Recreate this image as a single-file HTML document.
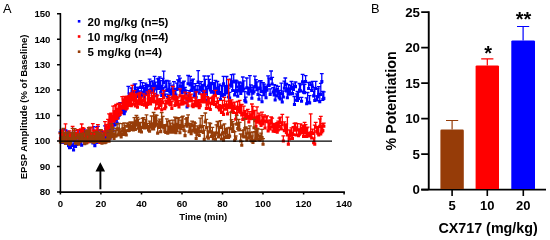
<!DOCTYPE html>
<html><head><meta charset="utf-8"><title>CX717 EPSP figure</title>
<style>
html,body{margin:0;padding:0;background:#fff;}
svg{display:block;}
text{font-family:"Liberation Sans",sans-serif;fill:#000;}
.s9{font-weight:bold;font-size:9.6px;}
.b{font-weight:bold;}
.r{font-weight:normal;}
</style></head><body>
<svg width="550" height="240" viewBox="0 0 550 240">
<rect width="550" height="240" fill="#fff"/>
<path d="M60.4 140.8V131.9M58.5 131.9h3.8M61.4 141.8V135.7M59.5 135.7h3.8M62.4 142.4V136.6M60.5 136.6h3.8M63.4 140.5V129.3M61.5 129.3h3.8M64.5 142.6V135.8M62.6 135.8h3.8M65.5 139.0V130.0M63.6 130.0h3.8M66.5 140.4V134.4M64.6 134.4h3.8M67.5 140.9V131.1M65.6 131.1h3.8M68.5 145.7V138.6M66.6 138.6h3.8M69.5 147.7V142.5M67.6 142.5h3.8M70.5 147.5V139.9M68.6 139.9h3.8M71.5 145.4V136.6M69.6 136.6h3.8M72.6 140.2V132.5M70.7 132.5h3.8M73.6 150.0V143.1M71.7 143.1h3.8M74.6 140.9V132.5M72.7 132.5h3.8M75.6 146.4V139.3M73.7 139.3h3.8M76.6 144.4V138.1M74.7 138.1h3.8M77.6 136.9V130.6M75.7 130.6h3.8M78.6 140.9V130.7M76.7 130.7h3.8M79.7 142.9V135.0M77.8 135.0h3.8M80.7 140.4V132.1M78.8 132.1h3.8M81.7 145.3V136.9M79.8 136.9h3.8M82.7 135.8V131.2M80.8 131.2h3.8M83.7 137.6V129.2M81.8 129.2h3.8M84.7 143.1V130.4M82.8 130.4h3.8M85.7 138.0V132.6M83.8 132.6h3.8M86.7 140.5V131.0M84.8 131.0h3.8M87.8 141.5V131.8M85.9 131.8h3.8M88.8 141.0V131.3M86.9 131.3h3.8M89.8 135.5V128.9M87.9 128.9h3.8M90.8 140.0V132.9M88.9 132.9h3.8M91.8 140.3V134.9M89.9 134.9h3.8M92.8 142.9V135.2M90.9 135.2h3.8M93.8 137.5V126.7M91.9 126.7h3.8M94.8 145.6V139.3M92.9 139.3h3.8M95.9 138.4V134.8M94.0 134.8h3.8M96.9 142.5V134.5M95.0 134.5h3.8M97.9 136.2V126.4M96.0 126.4h3.8M98.9 142.0V134.7M97.0 134.7h3.8M99.9 141.7V130.1M98.0 130.1h3.8M100.9 142.3V134.9M99.0 134.9h3.8M101.9 139.4V131.5M100.0 131.5h3.8M103.0 141.0V135.4M101.1 135.4h3.8M104.0 139.9V132.7M102.1 132.7h3.8M105.0 135.6V125.9M103.1 125.9h3.8M106.0 138.3V128.6M104.1 128.6h3.8M107.0 138.2V127.6M105.1 127.6h3.8M108.0 135.9V126.5M106.1 126.5h3.8M109.0 138.5V129.5M107.1 129.5h3.8M110.0 138.2V134.7M108.1 134.7h3.8M111.1 132.3V126.2M109.2 126.2h3.8M112.1 129.1V115.8M110.2 115.8h3.8M113.1 130.3V123.6M111.2 123.6h3.8M114.1 125.3V116.0M112.2 116.0h3.8M115.1 124.5V116.9M113.2 116.9h3.8M116.1 119.9V110.6M114.2 110.6h3.8M117.1 123.2V115.3M115.2 115.3h3.8M118.2 118.0V112.3M116.3 112.3h3.8M119.2 115.4V109.2M117.3 109.2h3.8M120.2 111.3V102.7M118.3 102.7h3.8M121.2 112.2V105.4M119.3 105.4h3.8M122.2 111.0V107.4M120.3 107.4h3.8M123.2 112.4V103.4M121.3 103.4h3.8M124.2 113.8V103.7M122.3 103.7h3.8M125.2 111.0V101.2M123.3 101.2h3.8M126.3 106.8V96.9M124.4 96.9h3.8M127.3 102.5V97.8M125.4 97.8h3.8M128.3 97.8V86.3M126.4 86.3h3.8M129.3 100.6V93.1M127.4 93.1h3.8M130.3 99.7V93.8M128.4 93.8h3.8M131.3 94.9V88.0M129.4 88.0h3.8M132.3 97.5V91.1M130.4 91.1h3.8M133.4 98.4V93.2M131.5 93.2h3.8M134.4 91.9V84.1M132.5 84.1h3.8M135.4 92.1V83.9M133.5 83.9h3.8M136.4 96.5V89.1M134.5 89.1h3.8M137.4 95.6V87.4M135.5 87.4h3.8M138.4 94.5V87.1M136.5 87.1h3.8M139.4 97.3V91.0M137.5 91.0h3.8M140.4 87.3V80.7M138.5 80.7h3.8M141.5 95.6V86.7M139.6 86.7h3.8M142.5 87.4V82.6M140.6 82.6h3.8M143.5 92.4V85.7M141.6 85.7h3.8M144.5 97.4V87.6M142.6 87.6h3.8M145.5 91.4V83.1M143.6 83.1h3.8M146.5 93.7V84.6M144.6 84.6h3.8M147.5 92.9V85.1M145.6 85.1h3.8M148.5 94.8V89.4M146.6 89.4h3.8M149.6 86.1V79.1M147.7 79.1h3.8M150.6 89.7V81.6M148.7 81.6h3.8M151.6 92.3V85.3M149.7 85.3h3.8M152.6 88.3V80.9M150.7 80.9h3.8M153.6 91.1V83.0M151.7 83.0h3.8M154.6 86.1V76.4M152.7 76.4h3.8M155.6 89.1V82.2M153.7 82.2h3.8M156.7 95.8V85.5M154.8 85.5h3.8M157.7 86.7V78.9M155.8 78.9h3.8M158.7 88.3V78.4M156.8 78.4h3.8M159.7 87.2V76.9M157.8 76.9h3.8M160.7 92.2V80.6M158.8 80.6h3.8M161.7 95.4V85.3M159.8 85.3h3.8M162.7 88.4V78.3M160.8 78.3h3.8M163.7 82.7V71.1M161.8 71.1h3.8M164.8 95.2V90.9M162.9 90.9h3.8M165.8 87.0V81.2M163.9 81.2h3.8M166.8 90.5V80.4M164.9 80.4h3.8M167.8 97.4V94.1M165.9 94.1h3.8M168.8 89.3V81.0M166.9 81.0h3.8M169.8 91.5V83.2M167.9 83.2h3.8M170.8 94.2V89.5M168.9 89.5h3.8M171.9 91.1V85.2M170.0 85.2h3.8M172.9 97.8V88.5M171.0 88.5h3.8M173.9 90.7V81.6M172.0 81.6h3.8M174.9 94.9V88.3M173.0 88.3h3.8M175.9 95.0V88.9M174.0 88.9h3.8M176.9 89.5V83.1M175.0 83.1h3.8M177.9 88.7V79.8M176.0 79.8h3.8M178.9 80.8V75.9M177.0 75.9h3.8M180.0 86.2V78.2M178.1 78.2h3.8M181.0 90.5V85.6M179.1 85.6h3.8M182.0 92.6V82.8M180.1 82.8h3.8M183.0 90.8V82.5M181.1 82.5h3.8M184.0 91.9V81.1M182.1 81.1h3.8M185.0 90.6V87.5M183.1 87.5h3.8M186.0 94.0V90.3M184.1 90.3h3.8M187.1 106.9V100.0M185.2 100.0h3.8M188.1 83.8V75.5M186.2 75.5h3.8M189.1 96.6V90.6M187.2 90.6h3.8M190.1 84.9V76.4M188.2 76.4h3.8M191.1 90.4V82.4M189.2 82.4h3.8M192.1 90.5V80.5M190.2 80.5h3.8M193.1 87.9V79.2M191.2 79.2h3.8M194.1 96.0V86.7M192.2 86.7h3.8M195.2 94.2V83.6M193.3 83.6h3.8M196.2 97.2V89.4M194.3 89.4h3.8M197.2 90.8V85.7M195.3 85.7h3.8M198.2 82.1V70.6M196.3 70.6h3.8M199.2 93.2V83.3M197.3 83.3h3.8M200.2 89.0V86.4M198.3 86.4h3.8M201.2 89.6V81.6M199.3 81.6h3.8M202.2 90.5V84.8M200.3 84.8h3.8M203.3 92.3V84.6M201.4 84.6h3.8M204.3 84.9V76.0M202.4 76.0h3.8M205.3 91.0V79.4M203.4 79.4h3.8M206.3 93.9V86.6M204.4 86.6h3.8M207.3 100.3V88.6M205.4 88.6h3.8M208.3 86.2V76.0M206.4 76.0h3.8M209.3 87.7V79.3M207.4 79.3h3.8M210.4 90.1V82.5M208.5 82.5h3.8M211.4 92.2V84.0M209.5 84.0h3.8M212.4 83.5V74.1M210.5 74.1h3.8M213.4 91.5V84.7M211.5 84.7h3.8M214.4 94.5V82.7M212.5 82.7h3.8M215.4 88.7V80.4M213.5 80.4h3.8M216.4 93.1V87.5M214.5 87.5h3.8M217.4 91.7V81.5M215.5 81.5h3.8M218.5 93.4V85.8M216.6 85.8h3.8M219.5 92.5V84.1M217.6 84.1h3.8M220.5 99.5V91.9M218.6 91.9h3.8M221.5 95.8V85.6M219.6 85.6h3.8M222.5 95.4V85.9M220.6 85.9h3.8M223.5 83.8V76.3M221.6 76.3h3.8M224.5 94.6V86.0M222.6 86.0h3.8M225.6 91.6V85.7M223.7 85.7h3.8M226.6 89.2V76.5M224.7 76.5h3.8M227.6 92.9V85.3M225.7 85.3h3.8M228.6 97.0V88.1M226.7 88.1h3.8M229.6 98.0V92.4M227.7 92.4h3.8M230.6 85.2V79.1M228.7 79.1h3.8M231.6 86.2V74.6M229.7 74.6h3.8M232.6 90.4V81.0M230.7 81.0h3.8M233.7 81.9V74.2M231.8 74.2h3.8M234.7 94.8V89.8M232.8 89.8h3.8M235.7 91.6V80.1M233.8 80.1h3.8M236.7 87.0V81.0M234.8 81.0h3.8M237.7 96.2V89.3M235.8 89.3h3.8M238.7 90.4V82.8M236.8 82.8h3.8M239.7 90.9V82.0M237.8 82.0h3.8M240.7 93.5V85.4M238.8 85.4h3.8M241.8 91.0V83.0M239.9 83.0h3.8M242.8 89.5V77.0M240.9 77.0h3.8M243.8 89.0V80.8M241.9 80.8h3.8M244.8 100.7V91.6M242.9 91.6h3.8M245.8 102.0V97.1M243.9 97.1h3.8M246.8 87.8V78.0M244.9 78.0h3.8M247.8 92.9V88.7M245.9 88.7h3.8M248.9 94.1V87.5M247.0 87.5h3.8M249.9 89.0V75.7M248.0 75.7h3.8M250.9 91.1V84.8M249.0 84.8h3.8M251.9 98.2V90.2M250.0 90.2h3.8M252.9 93.2V87.7M251.0 87.7h3.8M253.9 91.7V86.2M252.0 86.2h3.8M254.9 86.6V76.1M253.0 76.1h3.8M255.9 86.8V79.7M254.0 79.7h3.8M257.0 89.7V81.9M255.1 81.9h3.8M258.0 94.5V87.1M256.1 87.1h3.8M259.0 99.3V94.4M257.1 94.4h3.8M260.0 88.3V80.6M258.1 80.6h3.8M261.0 91.4V80.9M259.1 80.9h3.8M262.0 101.8V95.4M260.1 95.4h3.8M263.0 91.6V82.6M261.1 82.6h3.8M264.1 94.6V84.1M262.2 84.1h3.8M265.1 91.5V86.1M263.2 86.1h3.8M266.1 97.7V87.7M264.2 87.7h3.8M267.1 90.2V86.4M265.2 86.4h3.8M268.1 85.3V75.8M266.2 75.8h3.8M269.1 85.4V78.1M267.2 78.1h3.8M270.1 94.4V88.8M268.2 88.8h3.8M271.1 78.7V71.0M269.2 71.0h3.8M272.2 84.0V77.3M270.3 77.3h3.8M273.2 91.9V87.6M271.3 87.6h3.8M274.2 95.0V84.6M272.3 84.6h3.8M275.2 100.0V89.4M273.3 89.4h3.8M276.2 91.0V85.3M274.3 85.3h3.8M277.2 95.8V88.7M275.3 88.7h3.8M278.2 93.3V86.4M276.3 86.4h3.8M279.3 97.8V90.3M277.4 90.3h3.8M280.3 99.0V93.8M278.4 93.8h3.8M281.3 93.3V83.2M279.4 83.2h3.8M282.3 102.0V93.9M280.4 93.9h3.8M283.3 96.9V91.0M281.4 91.0h3.8M284.3 88.1V81.2M282.4 81.2h3.8M285.3 84.3V78.0M283.4 78.0h3.8M286.3 90.9V83.3M284.4 83.3h3.8M287.4 97.7V88.2M285.5 88.2h3.8M288.4 94.2V84.7M286.5 84.7h3.8M289.4 93.6V87.9M287.5 87.9h3.8M290.4 93.9V85.7M288.5 85.7h3.8M291.4 87.5V81.5M289.5 81.5h3.8M292.4 93.6V89.4M290.5 89.4h3.8M293.4 89.4V83.8M291.5 83.8h3.8M294.4 104.5V96.5M292.5 96.5h3.8M295.5 86.6V82.0M293.6 82.0h3.8M296.5 100.2V93.8M294.6 93.8h3.8M297.5 100.5V91.5M295.6 91.5h3.8M298.5 98.6V92.1M296.6 92.1h3.8M299.5 89.9V83.5M297.6 83.5h3.8M300.5 90.9V84.9M298.6 84.9h3.8M301.5 101.3V97.3M299.6 97.3h3.8M302.6 81.8V74.4M300.7 74.4h3.8M303.6 92.1V84.0M301.7 84.0h3.8M304.6 92.7V84.4M302.7 84.4h3.8M305.6 81.5V75.7M303.7 75.7h3.8M306.6 103.8V97.9M304.7 97.9h3.8M307.6 102.4V92.5M305.7 92.5h3.8M308.6 88.5V82.5M306.7 82.5h3.8M309.6 102.9V95.6M307.7 95.6h3.8M310.7 84.8V82.2M308.8 82.2h3.8M311.7 90.4V84.7M309.8 84.7h3.8M312.7 87.1V81.4M310.8 81.4h3.8M313.7 95.8V91.1M311.8 91.1h3.8M314.7 100.5V89.1M312.8 89.1h3.8M315.7 88.5V81.3M313.8 81.3h3.8M316.7 99.8V96.0M314.8 96.0h3.8M317.8 96.7V88.6M315.9 88.6h3.8M318.8 94.6V86.7M316.9 86.7h3.8M319.8 101.7V93.7M317.9 93.7h3.8M320.8 94.4V83.3M318.9 83.3h3.8M321.8 81.4V73.6M319.9 73.6h3.8M322.8 99.4V91.4M320.9 91.4h3.8M323.8 98.4V91.9M321.9 91.9h3.8" stroke="#0000ff" stroke-width="1.3" fill="none"/><path d="M58.9 139.2h3.1v3.1h-3.1zM59.9 140.2h3.1v3.1h-3.1zM60.9 140.9h3.1v3.1h-3.1zM61.9 139.0h3.1v3.1h-3.1zM62.9 141.0h3.1v3.1h-3.1zM63.9 137.4h3.1v3.1h-3.1zM64.9 138.8h3.1v3.1h-3.1zM65.9 139.3h3.1v3.1h-3.1zM67.0 144.1h3.1v3.1h-3.1zM68.0 146.2h3.1v3.1h-3.1zM69.0 146.0h3.1v3.1h-3.1zM70.0 143.9h3.1v3.1h-3.1zM71.0 138.6h3.1v3.1h-3.1zM72.0 148.4h3.1v3.1h-3.1zM73.0 139.4h3.1v3.1h-3.1zM74.0 144.8h3.1v3.1h-3.1zM75.1 142.8h3.1v3.1h-3.1zM76.1 135.3h3.1v3.1h-3.1zM77.1 139.3h3.1v3.1h-3.1zM78.1 141.4h3.1v3.1h-3.1zM79.1 138.8h3.1v3.1h-3.1zM80.1 143.7h3.1v3.1h-3.1zM81.1 134.2h3.1v3.1h-3.1zM82.2 136.1h3.1v3.1h-3.1zM83.2 141.6h3.1v3.1h-3.1zM84.2 136.4h3.1v3.1h-3.1zM85.2 138.9h3.1v3.1h-3.1zM86.2 139.9h3.1v3.1h-3.1zM87.2 139.5h3.1v3.1h-3.1zM88.2 133.9h3.1v3.1h-3.1zM89.2 138.5h3.1v3.1h-3.1zM90.3 138.7h3.1v3.1h-3.1zM91.3 141.3h3.1v3.1h-3.1zM92.3 135.9h3.1v3.1h-3.1zM93.3 144.1h3.1v3.1h-3.1zM94.3 136.8h3.1v3.1h-3.1zM95.3 140.9h3.1v3.1h-3.1zM96.3 134.6h3.1v3.1h-3.1zM97.4 140.4h3.1v3.1h-3.1zM98.4 140.1h3.1v3.1h-3.1zM99.4 140.8h3.1v3.1h-3.1zM100.4 137.8h3.1v3.1h-3.1zM101.4 139.4h3.1v3.1h-3.1zM102.4 138.3h3.1v3.1h-3.1zM103.4 134.0h3.1v3.1h-3.1zM104.4 136.8h3.1v3.1h-3.1zM105.5 136.6h3.1v3.1h-3.1zM106.5 134.4h3.1v3.1h-3.1zM107.5 136.9h3.1v3.1h-3.1zM108.5 136.6h3.1v3.1h-3.1zM109.5 130.7h3.1v3.1h-3.1zM110.5 127.6h3.1v3.1h-3.1zM111.5 128.8h3.1v3.1h-3.1zM112.5 123.7h3.1v3.1h-3.1zM113.6 123.0h3.1v3.1h-3.1zM114.6 118.3h3.1v3.1h-3.1zM115.6 121.7h3.1v3.1h-3.1zM116.6 116.5h3.1v3.1h-3.1zM117.6 113.8h3.1v3.1h-3.1zM118.6 109.8h3.1v3.1h-3.1zM119.6 110.6h3.1v3.1h-3.1zM120.7 109.5h3.1v3.1h-3.1zM121.7 110.8h3.1v3.1h-3.1zM122.7 112.2h3.1v3.1h-3.1zM123.7 109.5h3.1v3.1h-3.1zM124.7 105.3h3.1v3.1h-3.1zM125.7 100.9h3.1v3.1h-3.1zM126.7 96.2h3.1v3.1h-3.1zM127.7 99.0h3.1v3.1h-3.1zM128.8 98.2h3.1v3.1h-3.1zM129.8 93.3h3.1v3.1h-3.1zM130.8 95.9h3.1v3.1h-3.1zM131.8 96.8h3.1v3.1h-3.1zM132.8 90.3h3.1v3.1h-3.1zM133.8 90.5h3.1v3.1h-3.1zM134.8 95.0h3.1v3.1h-3.1zM135.9 94.0h3.1v3.1h-3.1zM136.9 93.0h3.1v3.1h-3.1zM137.9 95.7h3.1v3.1h-3.1zM138.9 85.8h3.1v3.1h-3.1zM139.9 94.1h3.1v3.1h-3.1zM140.9 85.8h3.1v3.1h-3.1zM141.9 90.8h3.1v3.1h-3.1zM142.9 95.8h3.1v3.1h-3.1zM144.0 89.8h3.1v3.1h-3.1zM145.0 92.2h3.1v3.1h-3.1zM146.0 91.3h3.1v3.1h-3.1zM147.0 93.2h3.1v3.1h-3.1zM148.0 84.5h3.1v3.1h-3.1zM149.0 88.2h3.1v3.1h-3.1zM150.0 90.7h3.1v3.1h-3.1zM151.1 86.8h3.1v3.1h-3.1zM152.1 89.6h3.1v3.1h-3.1zM153.1 84.6h3.1v3.1h-3.1zM154.1 87.5h3.1v3.1h-3.1zM155.1 94.2h3.1v3.1h-3.1zM156.1 85.2h3.1v3.1h-3.1zM157.1 86.8h3.1v3.1h-3.1zM158.1 85.6h3.1v3.1h-3.1zM159.2 90.7h3.1v3.1h-3.1zM160.2 93.9h3.1v3.1h-3.1zM161.2 86.9h3.1v3.1h-3.1zM162.2 81.1h3.1v3.1h-3.1zM163.2 93.6h3.1v3.1h-3.1zM164.2 85.4h3.1v3.1h-3.1zM165.2 88.9h3.1v3.1h-3.1zM166.2 95.9h3.1v3.1h-3.1zM167.3 87.7h3.1v3.1h-3.1zM168.3 89.9h3.1v3.1h-3.1zM169.3 92.6h3.1v3.1h-3.1zM170.3 89.6h3.1v3.1h-3.1zM171.3 96.2h3.1v3.1h-3.1zM172.3 89.1h3.1v3.1h-3.1zM173.3 93.4h3.1v3.1h-3.1zM174.4 93.4h3.1v3.1h-3.1zM175.4 87.9h3.1v3.1h-3.1zM176.4 87.2h3.1v3.1h-3.1zM177.4 79.3h3.1v3.1h-3.1zM178.4 84.6h3.1v3.1h-3.1zM179.4 88.9h3.1v3.1h-3.1zM180.4 91.1h3.1v3.1h-3.1zM181.4 89.3h3.1v3.1h-3.1zM182.5 90.3h3.1v3.1h-3.1zM183.5 89.0h3.1v3.1h-3.1zM184.5 92.4h3.1v3.1h-3.1zM185.5 105.4h3.1v3.1h-3.1zM186.5 82.2h3.1v3.1h-3.1zM187.5 95.0h3.1v3.1h-3.1zM188.5 83.3h3.1v3.1h-3.1zM189.6 88.8h3.1v3.1h-3.1zM190.6 88.9h3.1v3.1h-3.1zM191.6 86.3h3.1v3.1h-3.1zM192.6 94.5h3.1v3.1h-3.1zM193.6 92.7h3.1v3.1h-3.1zM194.6 95.7h3.1v3.1h-3.1zM195.6 89.3h3.1v3.1h-3.1zM196.6 80.5h3.1v3.1h-3.1zM197.7 91.7h3.1v3.1h-3.1zM198.7 87.4h3.1v3.1h-3.1zM199.7 88.1h3.1v3.1h-3.1zM200.7 89.0h3.1v3.1h-3.1zM201.7 90.8h3.1v3.1h-3.1zM202.7 83.4h3.1v3.1h-3.1zM203.7 89.5h3.1v3.1h-3.1zM204.8 92.3h3.1v3.1h-3.1zM205.8 98.8h3.1v3.1h-3.1zM206.8 84.6h3.1v3.1h-3.1zM207.8 86.2h3.1v3.1h-3.1zM208.8 88.5h3.1v3.1h-3.1zM209.8 90.7h3.1v3.1h-3.1zM210.8 82.0h3.1v3.1h-3.1zM211.8 90.0h3.1v3.1h-3.1zM212.9 92.9h3.1v3.1h-3.1zM213.9 87.2h3.1v3.1h-3.1zM214.9 91.5h3.1v3.1h-3.1zM215.9 90.1h3.1v3.1h-3.1zM216.9 91.8h3.1v3.1h-3.1zM217.9 91.0h3.1v3.1h-3.1zM218.9 98.0h3.1v3.1h-3.1zM219.9 94.3h3.1v3.1h-3.1zM221.0 93.9h3.1v3.1h-3.1zM222.0 82.2h3.1v3.1h-3.1zM223.0 93.1h3.1v3.1h-3.1zM224.0 90.0h3.1v3.1h-3.1zM225.0 87.7h3.1v3.1h-3.1zM226.0 91.4h3.1v3.1h-3.1zM227.0 95.4h3.1v3.1h-3.1zM228.1 96.5h3.1v3.1h-3.1zM229.1 83.6h3.1v3.1h-3.1zM230.1 84.7h3.1v3.1h-3.1zM231.1 88.9h3.1v3.1h-3.1zM232.1 80.3h3.1v3.1h-3.1zM233.1 93.3h3.1v3.1h-3.1zM234.1 90.1h3.1v3.1h-3.1zM235.1 85.4h3.1v3.1h-3.1zM236.2 94.7h3.1v3.1h-3.1zM237.2 88.9h3.1v3.1h-3.1zM238.2 89.3h3.1v3.1h-3.1zM239.2 91.9h3.1v3.1h-3.1zM240.2 89.4h3.1v3.1h-3.1zM241.2 87.9h3.1v3.1h-3.1zM242.2 87.5h3.1v3.1h-3.1zM243.3 99.1h3.1v3.1h-3.1zM244.3 100.5h3.1v3.1h-3.1zM245.3 86.2h3.1v3.1h-3.1zM246.3 91.4h3.1v3.1h-3.1zM247.3 92.5h3.1v3.1h-3.1zM248.3 87.4h3.1v3.1h-3.1zM249.3 89.6h3.1v3.1h-3.1zM250.3 96.7h3.1v3.1h-3.1zM251.4 91.7h3.1v3.1h-3.1zM252.4 90.2h3.1v3.1h-3.1zM253.4 85.1h3.1v3.1h-3.1zM254.4 85.2h3.1v3.1h-3.1zM255.4 88.2h3.1v3.1h-3.1zM256.4 92.9h3.1v3.1h-3.1zM257.4 97.7h3.1v3.1h-3.1zM258.5 86.8h3.1v3.1h-3.1zM259.5 89.8h3.1v3.1h-3.1zM260.5 100.2h3.1v3.1h-3.1zM261.5 90.1h3.1v3.1h-3.1zM262.5 93.1h3.1v3.1h-3.1zM263.5 89.9h3.1v3.1h-3.1zM264.5 96.2h3.1v3.1h-3.1zM265.5 88.6h3.1v3.1h-3.1zM266.6 83.8h3.1v3.1h-3.1zM267.6 83.8h3.1v3.1h-3.1zM268.6 92.8h3.1v3.1h-3.1zM269.6 77.2h3.1v3.1h-3.1zM270.6 82.4h3.1v3.1h-3.1zM271.6 90.4h3.1v3.1h-3.1zM272.6 93.5h3.1v3.1h-3.1zM273.6 98.4h3.1v3.1h-3.1zM274.7 89.5h3.1v3.1h-3.1zM275.7 94.3h3.1v3.1h-3.1zM276.7 91.7h3.1v3.1h-3.1zM277.7 96.2h3.1v3.1h-3.1zM278.7 97.4h3.1v3.1h-3.1zM279.7 91.8h3.1v3.1h-3.1zM280.7 100.5h3.1v3.1h-3.1zM281.8 95.4h3.1v3.1h-3.1zM282.8 86.6h3.1v3.1h-3.1zM283.8 82.8h3.1v3.1h-3.1zM284.8 89.4h3.1v3.1h-3.1zM285.8 96.2h3.1v3.1h-3.1zM286.8 92.6h3.1v3.1h-3.1zM287.8 92.0h3.1v3.1h-3.1zM288.8 92.4h3.1v3.1h-3.1zM289.9 86.0h3.1v3.1h-3.1zM290.9 92.1h3.1v3.1h-3.1zM291.9 87.9h3.1v3.1h-3.1zM292.9 102.9h3.1v3.1h-3.1zM293.9 85.1h3.1v3.1h-3.1zM294.9 98.7h3.1v3.1h-3.1zM295.9 99.0h3.1v3.1h-3.1zM297.0 97.0h3.1v3.1h-3.1zM298.0 88.4h3.1v3.1h-3.1zM299.0 89.3h3.1v3.1h-3.1zM300.0 99.7h3.1v3.1h-3.1zM301.0 80.3h3.1v3.1h-3.1zM302.0 90.6h3.1v3.1h-3.1zM303.0 91.1h3.1v3.1h-3.1zM304.0 79.9h3.1v3.1h-3.1zM305.1 102.2h3.1v3.1h-3.1zM306.1 100.8h3.1v3.1h-3.1zM307.1 86.9h3.1v3.1h-3.1zM308.1 101.3h3.1v3.1h-3.1zM309.1 83.2h3.1v3.1h-3.1zM310.1 88.9h3.1v3.1h-3.1zM311.1 85.5h3.1v3.1h-3.1zM312.1 94.3h3.1v3.1h-3.1zM313.2 98.9h3.1v3.1h-3.1zM314.2 87.0h3.1v3.1h-3.1zM315.2 98.3h3.1v3.1h-3.1zM316.2 95.1h3.1v3.1h-3.1zM317.2 93.1h3.1v3.1h-3.1zM318.2 100.1h3.1v3.1h-3.1zM319.2 92.8h3.1v3.1h-3.1zM320.3 79.9h3.1v3.1h-3.1zM321.3 97.9h3.1v3.1h-3.1zM322.3 96.8h3.1v3.1h-3.1z" fill="#0000ff"/><path d="M60.4 138.6V133.6M58.5 133.6h3.8M61.4 136.9V130.0M59.5 130.0h3.8M62.4 137.8V131.1M60.5 131.1h3.8M63.4 140.3V135.1M61.5 135.1h3.8M64.5 139.1V133.1M62.6 133.1h3.8M65.5 137.9V123.9M63.6 123.9h3.8M66.5 142.0V134.7M64.6 134.7h3.8M67.5 141.9V136.1M65.6 136.1h3.8M68.5 139.2V136.3M66.6 136.3h3.8M69.5 138.2V130.8M67.6 130.8h3.8M70.5 138.9V132.6M68.6 132.6h3.8M71.5 139.4V134.3M69.6 134.3h3.8M72.6 139.2V126.4M70.7 126.4h3.8M73.6 138.2V133.6M71.7 133.6h3.8M74.6 137.9V130.5M72.7 130.5h3.8M75.6 138.8V132.6M73.7 132.6h3.8M76.6 137.1V133.3M74.7 133.3h3.8M77.6 137.3V129.7M75.7 129.7h3.8M78.6 137.7V129.8M76.7 129.8h3.8M79.7 140.2V133.6M77.8 133.6h3.8M80.7 136.8V128.8M78.8 128.8h3.8M81.7 137.9V124.0M79.8 124.0h3.8M82.7 137.1V127.6M80.8 127.6h3.8M83.7 135.9V128.3M81.8 128.3h3.8M84.7 142.5V133.4M82.8 133.4h3.8M85.7 138.9V136.3M83.8 136.3h3.8M86.7 137.5V133.4M84.8 133.4h3.8M87.8 141.8V136.0M85.9 136.0h3.8M88.8 135.2V128.8M86.9 128.8h3.8M89.8 137.8V127.1M87.9 127.1h3.8M90.8 134.4V127.5M88.9 127.5h3.8M91.8 139.1V134.5M89.9 134.5h3.8M92.8 140.3V123.7M90.9 123.7h3.8M93.8 137.5V130.1M91.9 130.1h3.8M94.8 135.9V130.4M92.9 130.4h3.8M95.9 138.6V130.0M94.0 130.0h3.8M96.9 137.0V127.7M95.0 127.7h3.8M97.9 137.5V124.7M96.0 124.7h3.8M98.9 137.5V132.5M97.0 132.5h3.8M99.9 142.6V134.3M98.0 134.3h3.8M100.9 138.2V130.4M99.0 130.4h3.8M101.9 141.9V135.5M100.0 135.5h3.8M103.0 138.1V132.7M101.1 132.7h3.8M104.0 140.7V130.9M102.1 130.9h3.8M105.0 132.9V121.7M103.1 121.7h3.8M106.0 134.8V124.4M104.1 124.4h3.8M107.0 130.6V125.8M105.1 125.8h3.8M108.0 131.0V119.4M106.1 119.4h3.8M109.0 127.7V113.8M107.1 113.8h3.8M110.0 125.1V114.0M108.1 114.0h3.8M111.1 125.2V113.2M109.2 113.2h3.8M112.1 125.4V115.0M110.2 115.0h3.8M113.1 120.6V106.2M111.2 106.2h3.8M114.1 121.2V110.9M112.2 110.9h3.8M115.1 118.9V105.7M113.2 105.7h3.8M116.1 117.8V104.4M114.2 104.4h3.8M117.1 118.3V108.3M115.2 108.3h3.8M118.2 115.3V103.3M116.3 103.3h3.8M119.2 111.3V104.0M117.3 104.0h3.8M120.2 114.3V103.2M118.3 103.2h3.8M121.2 112.7V105.3M119.3 105.3h3.8M122.2 108.0V96.6M120.3 96.6h3.8M123.2 108.2V98.8M121.3 98.8h3.8M124.2 106.3V96.3M122.3 96.3h3.8M125.2 105.4V96.8M123.3 96.8h3.8M126.3 108.9V98.0M124.4 98.0h3.8M127.3 108.0V96.2M125.4 96.2h3.8M128.3 105.4V96.9M126.4 96.9h3.8M129.3 105.4V95.7M127.4 95.7h3.8M130.3 103.2V94.1M128.4 94.1h3.8M131.3 105.8V92.9M129.4 92.9h3.8M132.3 99.8V85.3M130.4 85.3h3.8M133.4 104.2V93.3M131.5 93.3h3.8M134.4 100.9V90.7M132.5 90.7h3.8M135.4 106.1V95.4M133.5 95.4h3.8M136.4 102.9V94.2M134.5 94.2h3.8M137.4 107.3V99.8M135.5 99.8h3.8M138.4 102.2V93.4M136.5 93.4h3.8M139.4 103.9V93.1M137.5 93.1h3.8M140.4 102.2V92.4M138.5 92.4h3.8M141.5 102.4V97.1M139.6 97.1h3.8M142.5 104.3V99.3M140.6 99.3h3.8M143.5 100.8V93.8M141.6 93.8h3.8M144.5 105.2V98.8M142.6 98.8h3.8M145.5 103.9V95.4M143.6 95.4h3.8M146.5 107.2V102.2M144.6 102.2h3.8M147.5 104.3V92.0M145.6 92.0h3.8M148.5 101.0V94.2M146.6 94.2h3.8M149.6 101.6V90.3M147.7 90.3h3.8M150.6 104.0V97.6M148.7 97.6h3.8M151.6 100.3V92.2M149.7 92.2h3.8M152.6 101.7V95.6M150.7 95.6h3.8M153.6 98.4V87.8M151.7 87.8h3.8M154.6 101.9V93.4M152.7 93.4h3.8M155.6 108.7V100.3M153.7 100.3h3.8M156.7 103.9V95.9M154.8 95.9h3.8M157.7 101.5V95.1M155.8 95.1h3.8M158.7 108.0V100.1M156.8 100.1h3.8M159.7 105.4V99.0M157.8 99.0h3.8M160.7 105.1V98.6M158.8 98.6h3.8M161.7 109.9V100.3M159.8 100.3h3.8M162.7 102.6V93.3M160.8 93.3h3.8M163.7 97.7V90.5M161.8 90.5h3.8M164.8 108.6V103.3M162.9 103.3h3.8M165.8 106.9V100.8M163.9 100.8h3.8M166.8 103.1V100.1M164.9 100.1h3.8M167.8 102.3V98.3M165.9 98.3h3.8M168.8 102.5V95.6M166.9 95.6h3.8M169.8 104.3V97.4M167.9 97.4h3.8M170.8 105.0V99.2M168.9 99.2h3.8M171.9 108.6V101.5M170.0 101.5h3.8M172.9 97.6V86.4M171.0 86.4h3.8M173.9 99.2V90.6M172.0 90.6h3.8M174.9 105.5V95.5M173.0 95.5h3.8M175.9 103.5V96.6M174.0 96.6h3.8M176.9 104.3V97.0M175.0 97.0h3.8M177.9 104.8V97.8M176.0 97.8h3.8M178.9 107.0V100.6M177.0 100.6h3.8M180.0 95.8V88.8M178.1 88.8h3.8M181.0 104.2V96.0M179.1 96.0h3.8M182.0 101.0V96.1M180.1 96.1h3.8M183.0 104.1V95.1M181.1 95.1h3.8M184.0 102.4V95.1M182.1 95.1h3.8M185.0 98.0V92.2M183.1 92.2h3.8M186.0 103.1V97.0M184.1 97.0h3.8M187.1 98.1V95.0M185.2 95.0h3.8M188.1 105.8V99.7M186.2 99.7h3.8M189.1 101.0V92.6M187.2 92.6h3.8M190.1 98.4V94.5M188.2 94.5h3.8M191.1 100.7V94.2M189.2 94.2h3.8M192.1 105.7V97.5M190.2 97.5h3.8M193.1 106.6V103.7M191.2 103.7h3.8M194.1 104.7V100.6M192.2 100.6h3.8M195.2 105.7V97.8M193.3 97.8h3.8M196.2 102.3V91.9M194.3 91.9h3.8M197.2 104.1V100.1M195.3 100.1h3.8M198.2 106.1V100.8M196.3 100.8h3.8M199.2 107.7V99.7M197.3 99.7h3.8M200.2 105.7V102.6M198.3 102.6h3.8M201.2 100.9V94.0M199.3 94.0h3.8M202.2 102.1V94.8M200.3 94.8h3.8M203.3 101.1V93.9M201.4 93.9h3.8M204.3 99.0V91.0M202.4 91.0h3.8M205.3 102.0V94.0M203.4 94.0h3.8M206.3 108.6V101.8M204.4 101.8h3.8M207.3 104.3V96.7M205.4 96.7h3.8M208.3 108.2V97.8M206.4 97.8h3.8M209.3 103.0V98.3M207.4 98.3h3.8M210.4 109.5V102.9M208.5 102.9h3.8M211.4 103.7V98.0M209.5 98.0h3.8M212.4 103.0V97.2M210.5 97.2h3.8M213.4 101.8V96.2M211.5 96.2h3.8M214.4 104.4V95.2M212.5 95.2h3.8M215.4 95.5V90.4M213.5 90.4h3.8M216.4 106.7V101.3M214.5 101.3h3.8M217.4 102.7V97.9M215.5 97.9h3.8M218.5 107.6V100.6M216.6 100.6h3.8M219.5 109.8V104.6M217.6 104.6h3.8M220.5 108.4V105.6M218.6 105.6h3.8M221.5 112.3V106.0M219.6 106.0h3.8M222.5 107.1V100.3M220.6 100.3h3.8M223.5 114.3V108.2M221.6 108.2h3.8M224.5 105.6V97.3M222.6 97.3h3.8M225.6 109.1V103.8M223.7 103.8h3.8M226.6 107.0V101.1M224.7 101.1h3.8M227.6 113.9V108.4M225.7 108.4h3.8M228.6 105.0V79.5M226.7 79.5h3.8M229.6 106.4V100.3M227.7 100.3h3.8M230.6 107.6V101.7M228.7 101.7h3.8M231.6 112.0V99.8M229.7 99.8h3.8M232.6 109.1V103.0M230.7 103.0h3.8M233.7 112.6V104.8M231.8 104.8h3.8M234.7 108.4V102.2M232.8 102.2h3.8M235.7 119.3V112.7M233.8 112.7h3.8M236.7 113.5V106.1M234.8 106.1h3.8M237.7 109.3V101.5M235.8 101.5h3.8M238.7 111.5V106.6M236.8 106.6h3.8M239.7 111.7V100.3M237.8 100.3h3.8M240.7 112.5V104.8M238.8 104.8h3.8M241.8 115.1V104.3M239.9 104.3h3.8M242.8 119.4V112.5M240.9 112.5h3.8M243.8 114.8V106.2M241.9 106.2h3.8M244.8 118.5V110.7M242.9 110.7h3.8M245.8 118.3V110.9M243.9 110.9h3.8M246.8 118.2V113.4M244.9 113.4h3.8M247.8 118.2V109.3M245.9 109.3h3.8M248.9 122.0V115.4M247.0 115.4h3.8M249.9 116.6V111.7M248.0 111.7h3.8M250.9 118.8V113.8M249.0 113.8h3.8M251.9 115.8V104.0M250.0 104.0h3.8M252.9 113.1V106.4M251.0 106.4h3.8M253.9 118.1V110.7M252.0 110.7h3.8M254.9 120.8V110.5M253.0 110.5h3.8M255.9 126.3V117.0M254.0 117.0h3.8M257.0 122.2V106.9M255.1 106.9h3.8M258.0 121.7V116.0M256.1 116.0h3.8M259.0 121.8V113.2M257.1 113.2h3.8M260.0 123.1V115.0M258.1 115.0h3.8M261.0 125.6V122.8M259.1 122.8h3.8M262.0 120.7V112.2M260.1 112.2h3.8M263.0 124.0V116.7M261.1 116.7h3.8M264.1 121.0V114.8M262.2 114.8h3.8M265.1 128.0V121.3M263.2 121.3h3.8M266.1 121.3V117.0M264.2 117.0h3.8M267.1 121.7V115.8M265.2 115.8h3.8M268.1 130.8V121.2M266.2 121.2h3.8M269.1 127.4V122.9M267.2 122.9h3.8M270.1 128.9V119.8M268.2 119.8h3.8M271.1 123.3V117.0M269.2 117.0h3.8M272.2 126.7V118.2M270.3 118.2h3.8M273.2 131.3V123.4M271.3 123.4h3.8M274.2 129.3V123.3M272.3 123.3h3.8M275.2 131.5V124.3M273.3 124.3h3.8M276.2 129.9V123.9M274.3 123.9h3.8M277.2 132.1V122.7M275.3 122.7h3.8M278.2 130.0V121.1M276.3 121.1h3.8M279.3 126.4V118.1M277.4 118.1h3.8M280.3 122.5V117.1M278.4 117.1h3.8M281.3 128.8V122.4M279.4 122.4h3.8M282.3 125.0V114.4M280.4 114.4h3.8M283.3 141.0V135.8M281.4 135.8h3.8M284.3 130.7V121.9M282.4 121.9h3.8M285.3 130.8V123.8M283.4 123.8h3.8M286.3 132.3V123.9M284.4 123.9h3.8M287.4 135.0V117.2M285.5 117.2h3.8M288.4 144.1V135.7M286.5 135.7h3.8M289.4 139.0V129.9M287.5 129.9h3.8M290.4 135.6V130.3M288.5 130.3h3.8M291.4 133.1V127.8M289.5 127.8h3.8M292.4 138.5V134.6M290.5 134.6h3.8M293.4 134.8V126.6M291.5 126.6h3.8M294.4 130.3V123.4M292.5 123.4h3.8M295.5 130.1V123.0M293.6 123.0h3.8M296.5 135.1V126.8M294.6 126.8h3.8M297.5 130.1V123.6M295.6 123.6h3.8M298.5 135.7V128.9M296.6 128.9h3.8M299.5 134.3V129.0M297.6 129.0h3.8M300.5 130.1V123.8M298.6 123.8h3.8M301.5 132.6V127.2M299.6 127.2h3.8M302.6 133.1V125.1M300.7 125.1h3.8M303.6 136.5V125.3M301.7 125.3h3.8M304.6 133.0V122.3M302.7 122.3h3.8M305.6 130.4V124.6M303.7 124.6h3.8M306.6 136.4V128.4M304.7 128.4h3.8M307.6 134.4V127.2M305.7 127.2h3.8M308.6 136.0V132.5M306.7 132.5h3.8M309.6 135.7V133.1M307.7 133.1h3.8M310.7 133.0V113.9M308.8 113.9h3.8M311.7 137.9V131.3M309.8 131.3h3.8M312.7 133.4V129.2M310.8 129.2h3.8M313.7 142.8V137.8M311.8 137.8h3.8M314.7 144.1V125.1M312.8 125.1h3.8M315.7 127.2V122.3M313.8 122.3h3.8M316.7 131.6V127.3M314.8 127.3h3.8M317.8 133.3V126.8M315.9 126.8h3.8M318.8 134.9V126.7M316.9 126.7h3.8M319.8 126.3V118.8M317.9 118.8h3.8M320.8 134.1V116.3M318.9 116.3h3.8M321.8 131.9V125.3M319.9 125.3h3.8M322.8 130.7V123.6M320.9 123.6h3.8M323.8 126.3V123.2M321.9 123.2h3.8" stroke="#ff0000" stroke-width="1.3" fill="none"/><path d="M58.9 137.1h3.1v3.1h-3.1zM59.9 135.4h3.1v3.1h-3.1zM60.9 136.3h3.1v3.1h-3.1zM61.9 138.8h3.1v3.1h-3.1zM62.9 137.5h3.1v3.1h-3.1zM63.9 136.3h3.1v3.1h-3.1zM64.9 140.4h3.1v3.1h-3.1zM65.9 140.4h3.1v3.1h-3.1zM67.0 137.7h3.1v3.1h-3.1zM68.0 136.7h3.1v3.1h-3.1zM69.0 137.3h3.1v3.1h-3.1zM70.0 137.9h3.1v3.1h-3.1zM71.0 137.6h3.1v3.1h-3.1zM72.0 136.7h3.1v3.1h-3.1zM73.0 136.3h3.1v3.1h-3.1zM74.0 137.3h3.1v3.1h-3.1zM75.1 135.5h3.1v3.1h-3.1zM76.1 135.7h3.1v3.1h-3.1zM77.1 136.2h3.1v3.1h-3.1zM78.1 138.6h3.1v3.1h-3.1zM79.1 135.3h3.1v3.1h-3.1zM80.1 136.4h3.1v3.1h-3.1zM81.1 135.5h3.1v3.1h-3.1zM82.2 134.3h3.1v3.1h-3.1zM83.2 140.9h3.1v3.1h-3.1zM84.2 137.3h3.1v3.1h-3.1zM85.2 136.0h3.1v3.1h-3.1zM86.2 140.3h3.1v3.1h-3.1zM87.2 133.7h3.1v3.1h-3.1zM88.2 136.2h3.1v3.1h-3.1zM89.2 132.8h3.1v3.1h-3.1zM90.3 137.5h3.1v3.1h-3.1zM91.3 138.7h3.1v3.1h-3.1zM92.3 135.9h3.1v3.1h-3.1zM93.3 134.4h3.1v3.1h-3.1zM94.3 137.1h3.1v3.1h-3.1zM95.3 135.4h3.1v3.1h-3.1zM96.3 135.9h3.1v3.1h-3.1zM97.4 136.0h3.1v3.1h-3.1zM98.4 141.0h3.1v3.1h-3.1zM99.4 136.6h3.1v3.1h-3.1zM100.4 140.3h3.1v3.1h-3.1zM101.4 136.5h3.1v3.1h-3.1zM102.4 139.1h3.1v3.1h-3.1zM103.4 131.3h3.1v3.1h-3.1zM104.4 133.3h3.1v3.1h-3.1zM105.5 129.0h3.1v3.1h-3.1zM106.5 129.4h3.1v3.1h-3.1zM107.5 126.1h3.1v3.1h-3.1zM108.5 123.6h3.1v3.1h-3.1zM109.5 123.7h3.1v3.1h-3.1zM110.5 123.8h3.1v3.1h-3.1zM111.5 119.1h3.1v3.1h-3.1zM112.5 119.7h3.1v3.1h-3.1zM113.6 117.3h3.1v3.1h-3.1zM114.6 116.3h3.1v3.1h-3.1zM115.6 116.8h3.1v3.1h-3.1zM116.6 113.8h3.1v3.1h-3.1zM117.6 109.8h3.1v3.1h-3.1zM118.6 112.8h3.1v3.1h-3.1zM119.6 111.1h3.1v3.1h-3.1zM120.7 106.5h3.1v3.1h-3.1zM121.7 106.7h3.1v3.1h-3.1zM122.7 104.7h3.1v3.1h-3.1zM123.7 103.8h3.1v3.1h-3.1zM124.7 107.3h3.1v3.1h-3.1zM125.7 106.4h3.1v3.1h-3.1zM126.7 103.9h3.1v3.1h-3.1zM127.7 103.8h3.1v3.1h-3.1zM128.8 101.7h3.1v3.1h-3.1zM129.8 104.2h3.1v3.1h-3.1zM130.8 98.3h3.1v3.1h-3.1zM131.8 102.7h3.1v3.1h-3.1zM132.8 99.3h3.1v3.1h-3.1zM133.8 104.5h3.1v3.1h-3.1zM134.8 101.4h3.1v3.1h-3.1zM135.9 105.7h3.1v3.1h-3.1zM136.9 100.7h3.1v3.1h-3.1zM137.9 102.4h3.1v3.1h-3.1zM138.9 100.6h3.1v3.1h-3.1zM139.9 100.8h3.1v3.1h-3.1zM140.9 102.8h3.1v3.1h-3.1zM141.9 99.3h3.1v3.1h-3.1zM142.9 103.6h3.1v3.1h-3.1zM144.0 102.4h3.1v3.1h-3.1zM145.0 105.7h3.1v3.1h-3.1zM146.0 102.8h3.1v3.1h-3.1zM147.0 99.5h3.1v3.1h-3.1zM148.0 100.1h3.1v3.1h-3.1zM149.0 102.4h3.1v3.1h-3.1zM150.0 98.8h3.1v3.1h-3.1zM151.1 100.1h3.1v3.1h-3.1zM152.1 96.8h3.1v3.1h-3.1zM153.1 100.3h3.1v3.1h-3.1zM154.1 107.2h3.1v3.1h-3.1zM155.1 102.3h3.1v3.1h-3.1zM156.1 100.0h3.1v3.1h-3.1zM157.1 106.4h3.1v3.1h-3.1zM158.1 103.9h3.1v3.1h-3.1zM159.2 103.5h3.1v3.1h-3.1zM160.2 108.3h3.1v3.1h-3.1zM161.2 101.1h3.1v3.1h-3.1zM162.2 96.1h3.1v3.1h-3.1zM163.2 107.1h3.1v3.1h-3.1zM164.2 105.4h3.1v3.1h-3.1zM165.2 101.6h3.1v3.1h-3.1zM166.2 100.8h3.1v3.1h-3.1zM167.3 100.9h3.1v3.1h-3.1zM168.3 102.8h3.1v3.1h-3.1zM169.3 103.5h3.1v3.1h-3.1zM170.3 107.0h3.1v3.1h-3.1zM171.3 96.0h3.1v3.1h-3.1zM172.3 97.6h3.1v3.1h-3.1zM173.3 104.0h3.1v3.1h-3.1zM174.4 102.0h3.1v3.1h-3.1zM175.4 102.8h3.1v3.1h-3.1zM176.4 103.2h3.1v3.1h-3.1zM177.4 105.4h3.1v3.1h-3.1zM178.4 94.2h3.1v3.1h-3.1zM179.4 102.6h3.1v3.1h-3.1zM180.4 99.4h3.1v3.1h-3.1zM181.4 102.5h3.1v3.1h-3.1zM182.5 100.9h3.1v3.1h-3.1zM183.5 96.4h3.1v3.1h-3.1zM184.5 101.5h3.1v3.1h-3.1zM185.5 96.6h3.1v3.1h-3.1zM186.5 104.2h3.1v3.1h-3.1zM187.5 99.5h3.1v3.1h-3.1zM188.5 96.8h3.1v3.1h-3.1zM189.6 99.1h3.1v3.1h-3.1zM190.6 104.2h3.1v3.1h-3.1zM191.6 105.1h3.1v3.1h-3.1zM192.6 103.1h3.1v3.1h-3.1zM193.6 104.1h3.1v3.1h-3.1zM194.6 100.7h3.1v3.1h-3.1zM195.6 102.5h3.1v3.1h-3.1zM196.6 104.5h3.1v3.1h-3.1zM197.7 106.2h3.1v3.1h-3.1zM198.7 104.1h3.1v3.1h-3.1zM199.7 99.3h3.1v3.1h-3.1zM200.7 100.5h3.1v3.1h-3.1zM201.7 99.6h3.1v3.1h-3.1zM202.7 97.4h3.1v3.1h-3.1zM203.7 100.4h3.1v3.1h-3.1zM204.8 107.0h3.1v3.1h-3.1zM205.8 102.7h3.1v3.1h-3.1zM206.8 106.7h3.1v3.1h-3.1zM207.8 101.4h3.1v3.1h-3.1zM208.8 107.9h3.1v3.1h-3.1zM209.8 102.1h3.1v3.1h-3.1zM210.8 101.5h3.1v3.1h-3.1zM211.8 100.3h3.1v3.1h-3.1zM212.9 102.8h3.1v3.1h-3.1zM213.9 93.9h3.1v3.1h-3.1zM214.9 105.2h3.1v3.1h-3.1zM215.9 101.1h3.1v3.1h-3.1zM216.9 106.1h3.1v3.1h-3.1zM217.9 108.3h3.1v3.1h-3.1zM218.9 106.9h3.1v3.1h-3.1zM219.9 110.8h3.1v3.1h-3.1zM221.0 105.5h3.1v3.1h-3.1zM222.0 112.8h3.1v3.1h-3.1zM223.0 104.0h3.1v3.1h-3.1zM224.0 107.6h3.1v3.1h-3.1zM225.0 105.5h3.1v3.1h-3.1zM226.0 112.3h3.1v3.1h-3.1zM227.0 103.4h3.1v3.1h-3.1zM228.1 104.9h3.1v3.1h-3.1zM229.1 106.1h3.1v3.1h-3.1zM230.1 110.4h3.1v3.1h-3.1zM231.1 107.5h3.1v3.1h-3.1zM232.1 111.0h3.1v3.1h-3.1zM233.1 106.8h3.1v3.1h-3.1zM234.1 117.7h3.1v3.1h-3.1zM235.1 111.9h3.1v3.1h-3.1zM236.2 107.7h3.1v3.1h-3.1zM237.2 109.9h3.1v3.1h-3.1zM238.2 110.1h3.1v3.1h-3.1zM239.2 110.9h3.1v3.1h-3.1zM240.2 113.5h3.1v3.1h-3.1zM241.2 117.8h3.1v3.1h-3.1zM242.2 113.3h3.1v3.1h-3.1zM243.3 116.9h3.1v3.1h-3.1zM244.3 116.8h3.1v3.1h-3.1zM245.3 116.7h3.1v3.1h-3.1zM246.3 116.7h3.1v3.1h-3.1zM247.3 120.5h3.1v3.1h-3.1zM248.3 115.1h3.1v3.1h-3.1zM249.3 117.2h3.1v3.1h-3.1zM250.3 114.3h3.1v3.1h-3.1zM251.4 111.5h3.1v3.1h-3.1zM252.4 116.5h3.1v3.1h-3.1zM253.4 119.2h3.1v3.1h-3.1zM254.4 124.8h3.1v3.1h-3.1zM255.4 120.6h3.1v3.1h-3.1zM256.4 120.2h3.1v3.1h-3.1zM257.4 120.3h3.1v3.1h-3.1zM258.5 121.6h3.1v3.1h-3.1zM259.5 124.0h3.1v3.1h-3.1zM260.5 119.2h3.1v3.1h-3.1zM261.5 122.4h3.1v3.1h-3.1zM262.5 119.5h3.1v3.1h-3.1zM263.5 126.5h3.1v3.1h-3.1zM264.5 119.7h3.1v3.1h-3.1zM265.5 120.1h3.1v3.1h-3.1zM266.6 129.3h3.1v3.1h-3.1zM267.6 125.9h3.1v3.1h-3.1zM268.6 127.3h3.1v3.1h-3.1zM269.6 121.7h3.1v3.1h-3.1zM270.6 125.2h3.1v3.1h-3.1zM271.6 129.7h3.1v3.1h-3.1zM272.6 127.7h3.1v3.1h-3.1zM273.6 130.0h3.1v3.1h-3.1zM274.7 128.3h3.1v3.1h-3.1zM275.7 130.6h3.1v3.1h-3.1zM276.7 128.4h3.1v3.1h-3.1zM277.7 124.9h3.1v3.1h-3.1zM278.7 121.0h3.1v3.1h-3.1zM279.7 127.3h3.1v3.1h-3.1zM280.7 123.4h3.1v3.1h-3.1zM281.8 139.4h3.1v3.1h-3.1zM282.8 129.1h3.1v3.1h-3.1zM283.8 129.2h3.1v3.1h-3.1zM284.8 130.8h3.1v3.1h-3.1zM285.8 133.4h3.1v3.1h-3.1zM286.8 142.6h3.1v3.1h-3.1zM287.8 137.5h3.1v3.1h-3.1zM288.8 134.1h3.1v3.1h-3.1zM289.9 131.5h3.1v3.1h-3.1zM290.9 137.0h3.1v3.1h-3.1zM291.9 133.2h3.1v3.1h-3.1zM292.9 128.7h3.1v3.1h-3.1zM293.9 128.6h3.1v3.1h-3.1zM294.9 133.5h3.1v3.1h-3.1zM295.9 128.5h3.1v3.1h-3.1zM297.0 134.2h3.1v3.1h-3.1zM298.0 132.7h3.1v3.1h-3.1zM299.0 128.6h3.1v3.1h-3.1zM300.0 131.1h3.1v3.1h-3.1zM301.0 131.5h3.1v3.1h-3.1zM302.0 135.0h3.1v3.1h-3.1zM303.0 131.5h3.1v3.1h-3.1zM304.0 128.8h3.1v3.1h-3.1zM305.1 134.8h3.1v3.1h-3.1zM306.1 132.8h3.1v3.1h-3.1zM307.1 134.4h3.1v3.1h-3.1zM308.1 134.1h3.1v3.1h-3.1zM309.1 131.4h3.1v3.1h-3.1zM310.1 136.4h3.1v3.1h-3.1zM311.1 131.9h3.1v3.1h-3.1zM312.1 141.2h3.1v3.1h-3.1zM313.2 142.6h3.1v3.1h-3.1zM314.2 125.7h3.1v3.1h-3.1zM315.2 130.1h3.1v3.1h-3.1zM316.2 131.7h3.1v3.1h-3.1zM317.2 133.4h3.1v3.1h-3.1zM318.2 124.8h3.1v3.1h-3.1zM319.2 132.5h3.1v3.1h-3.1zM320.3 130.3h3.1v3.1h-3.1zM321.3 129.1h3.1v3.1h-3.1zM322.3 124.7h3.1v3.1h-3.1z" fill="#ff0000"/><path d="M60.4 141.9V132.7M58.5 132.7h3.8M61.4 142.0V136.3M59.5 136.3h3.8M62.4 141.8V137.2M60.5 137.2h3.8M63.4 140.7V128.3M61.5 128.3h3.8M64.5 137.7V132.5M62.6 132.5h3.8M65.5 143.6V137.0M63.6 137.0h3.8M66.5 138.1V132.4M64.6 132.4h3.8M67.5 143.0V133.9M65.6 133.9h3.8M68.5 138.5V131.9M66.6 131.9h3.8M69.5 144.3V140.1M67.6 140.1h3.8M70.5 143.1V140.2M68.6 140.2h3.8M71.5 138.8V132.7M69.6 132.7h3.8M72.6 139.6V128.4M70.7 128.4h3.8M73.6 137.6V132.5M71.7 132.5h3.8M74.6 138.5V128.7M72.7 128.7h3.8M75.6 143.2V137.8M73.7 137.8h3.8M76.6 141.3V137.2M74.7 137.2h3.8M77.6 136.7V134.2M75.7 134.2h3.8M78.6 144.3V137.4M76.7 137.4h3.8M79.7 141.7V134.0M77.8 134.0h3.8M80.7 140.2V133.3M78.8 133.3h3.8M81.7 137.7V134.7M79.8 134.7h3.8M82.7 141.0V135.1M80.8 135.1h3.8M83.7 140.6V132.8M81.8 132.8h3.8M84.7 143.7V137.6M82.8 137.6h3.8M85.7 138.7V130.6M83.8 130.6h3.8M86.7 143.0V131.5M84.8 131.5h3.8M87.8 134.3V129.9M85.9 129.9h3.8M88.8 140.1V127.7M86.9 127.7h3.8M89.8 138.7V130.9M87.9 130.9h3.8M90.8 141.6V135.4M88.9 135.4h3.8M91.8 141.6V135.4M89.9 135.4h3.8M92.8 138.8V132.3M90.9 132.3h3.8M93.8 142.3V137.4M91.9 137.4h3.8M94.8 141.2V135.6M92.9 135.6h3.8M95.9 141.5V132.1M94.0 132.1h3.8M96.9 139.9V131.5M95.0 131.5h3.8M97.9 140.0V132.5M96.0 132.5h3.8M98.9 141.4V134.6M97.0 134.6h3.8M99.9 138.8V133.6M98.0 133.6h3.8M100.9 137.1V129.6M99.0 129.6h3.8M101.9 143.2V136.8M100.0 136.8h3.8M103.0 142.6V134.9M101.1 134.9h3.8M104.0 142.6V132.9M102.1 132.9h3.8M105.0 142.6V139.9M103.1 139.9h3.8M106.0 142.3V139.0M104.1 139.0h3.8M107.0 140.3V130.8M105.1 130.8h3.8M108.0 138.3V133.6M106.1 133.6h3.8M109.0 141.3V130.3M107.1 130.3h3.8M110.0 138.2V130.8M108.1 130.8h3.8M111.1 135.9V123.6M109.2 123.6h3.8M112.1 134.8V127.2M110.2 127.2h3.8M113.1 136.6V127.9M111.2 127.9h3.8M114.1 138.4V133.1M112.2 133.1h3.8M115.1 136.2V130.7M113.2 130.7h3.8M116.1 135.8V128.3M114.2 128.3h3.8M117.1 129.4V123.7M115.2 123.7h3.8M118.2 134.8V127.8M116.3 127.8h3.8M119.2 132.9V123.4M117.3 123.4h3.8M120.2 134.6V128.9M118.3 128.9h3.8M121.2 136.9V131.4M119.3 131.4h3.8M122.2 131.0V123.6M120.3 123.6h3.8M123.2 134.3V127.7M121.3 127.7h3.8M124.2 131.3V122.9M122.3 122.9h3.8M125.2 132.4V125.5M123.3 125.5h3.8M126.3 135.0V129.9M124.4 129.9h3.8M127.3 126.2V123.3M125.4 123.3h3.8M128.3 130.6V122.8M126.4 122.8h3.8M129.3 130.4V124.7M127.4 124.7h3.8M130.3 129.4V122.0M128.4 122.0h3.8M131.3 129.2V125.6M129.4 125.6h3.8M132.3 129.1V123.5M130.4 123.5h3.8M133.4 129.9V122.0M131.5 122.0h3.8M134.4 126.8V117.6M132.5 117.6h3.8M135.4 129.4V120.1M133.5 120.1h3.8M136.4 125.2V115.5M134.5 115.5h3.8M137.4 124.5V117.4M135.5 117.4h3.8M138.4 128.3V119.2M136.5 119.2h3.8M139.4 131.2V123.4M137.5 123.4h3.8M140.4 129.0V122.4M138.5 122.4h3.8M141.5 132.1V126.5M139.6 126.5h3.8M142.5 127.6V118.4M140.6 118.4h3.8M143.5 124.9V117.7M141.6 117.7h3.8M144.5 128.0V122.3M142.6 122.3h3.8M145.5 126.3V119.5M143.6 119.5h3.8M146.5 125.8V114.9M144.6 114.9h3.8M147.5 127.6V123.3M145.6 123.3h3.8M148.5 130.0V125.6M146.6 125.6h3.8M149.6 131.1V121.1M147.7 121.1h3.8M150.6 127.1V122.9M148.7 122.9h3.8M151.6 126.0V116.0M149.7 116.0h3.8M152.6 129.0V123.0M150.7 123.0h3.8M153.6 129.1V112.5M151.7 112.5h3.8M154.6 126.2V116.4M152.7 116.4h3.8M155.6 124.6V114.8M153.7 114.8h3.8M156.7 124.2V115.4M154.8 115.4h3.8M157.7 133.2V126.0M155.8 126.0h3.8M158.7 127.5V120.9M156.8 120.9h3.8M159.7 125.7V119.1M157.8 119.1h3.8M160.7 131.7V121.3M158.8 121.3h3.8M161.7 126.6V112.7M159.8 112.7h3.8M162.7 125.9V116.3M160.8 116.3h3.8M163.7 127.9V125.3M161.8 125.3h3.8M164.8 131.3V124.9M162.9 124.9h3.8M165.8 132.5V124.7M163.9 124.7h3.8M166.8 125.2V118.8M164.9 118.8h3.8M167.8 133.2V121.7M165.9 121.7h3.8M168.8 131.0V126.1M166.9 126.1h3.8M169.8 128.7V120.5M167.9 120.5h3.8M170.8 132.1V123.1M168.9 123.1h3.8M171.9 131.5V126.0M170.0 126.0h3.8M172.9 129.2V120.2M171.0 120.2h3.8M173.9 132.2V124.2M172.0 124.2h3.8M174.9 130.4V117.2M173.0 117.2h3.8M175.9 132.7V117.5M174.0 117.5h3.8M176.9 130.4V123.3M175.0 123.3h3.8M177.9 127.6V118.4M176.0 118.4h3.8M178.9 125.6V117.6M177.0 117.6h3.8M180.0 132.8V126.5M178.1 126.5h3.8M181.0 128.6V120.1M179.1 120.1h3.8M182.0 125.3V117.0M180.1 117.0h3.8M183.0 126.6V116.2M181.1 116.2h3.8M184.0 130.2V125.9M182.1 125.9h3.8M185.0 135.6V131.2M183.1 131.2h3.8M186.0 124.7V119.0M184.1 119.0h3.8M187.1 126.2V117.6M185.2 117.6h3.8M188.1 124.3V114.8M186.2 114.8h3.8M189.1 131.8V124.8M187.2 124.8h3.8M190.1 131.1V123.4M188.2 123.4h3.8M191.1 133.7V126.4M189.2 126.4h3.8M192.1 125.1V121.2M190.2 121.2h3.8M193.1 130.7V125.1M191.2 125.1h3.8M194.1 131.0V122.0M192.2 122.0h3.8M195.2 132.1V123.2M193.3 123.2h3.8M196.2 138.5V128.8M194.3 128.8h3.8M197.2 134.5V125.9M195.3 125.9h3.8M198.2 131.4V128.9M196.3 128.9h3.8M199.2 135.4V127.5M197.3 127.5h3.8M200.2 126.0V118.1M198.3 118.1h3.8M201.2 131.4V126.9M199.3 126.9h3.8M202.2 126.7V115.7M200.3 115.7h3.8M203.3 132.5V125.6M201.4 125.6h3.8M204.3 139.3V130.2M202.4 130.2h3.8M205.3 121.8V113.0M203.4 113.0h3.8M206.3 127.8V119.3M204.4 119.3h3.8M207.3 137.0V126.9M205.4 126.9h3.8M208.3 138.2V131.2M206.4 131.2h3.8M209.3 132.1V122.9M207.4 122.9h3.8M210.4 131.6V123.5M208.5 123.5h3.8M211.4 136.5V131.8M209.5 131.8h3.8M212.4 133.3V127.3M210.5 127.3h3.8M213.4 138.9V134.1M211.5 134.1h3.8M214.4 135.7V132.1M212.5 132.1h3.8M215.4 139.3V135.2M213.5 135.2h3.8M216.4 133.1V124.9M214.5 124.9h3.8M217.4 125.8V121.5M215.5 121.5h3.8M218.5 136.8V121.6M216.6 121.6h3.8M219.5 135.0V128.3M217.6 128.3h3.8M220.5 127.3V120.6M218.6 120.6h3.8M221.5 139.1V134.4M219.6 134.4h3.8M222.5 133.1V125.1M220.6 125.1h3.8M223.5 140.1V134.8M221.6 134.8h3.8M224.5 132.5V123.9M222.6 123.9h3.8M225.6 137.4V128.7M223.7 128.7h3.8M226.6 132.5V128.8M224.7 128.8h3.8M227.6 136.2V128.0M225.7 128.0h3.8M228.6 137.3V134.3M226.7 134.3h3.8M229.6 136.3V127.4M227.7 127.4h3.8M230.6 128.8V112.2M228.7 112.2h3.8M231.6 124.7V119.6M229.7 119.6h3.8M232.6 131.5V121.6M230.7 121.6h3.8M233.7 131.5V123.8M231.8 123.8h3.8M234.7 140.3V131.7M232.8 131.7h3.8M235.7 138.6V136.0M233.8 136.0h3.8M236.7 124.3V115.4M234.8 115.4h3.8M237.7 128.5V122.9M235.8 122.9h3.8M238.7 130.0V119.4M236.8 119.4h3.8M239.7 129.7V122.4M237.8 122.4h3.8M240.7 141.0V134.0M238.8 134.0h3.8M241.8 145.2V141.3M239.9 141.3h3.8M242.8 136.0V130.6M240.9 130.6h3.8M243.8 137.1V129.9M241.9 129.9h3.8M244.8 128.7V118.6M242.9 118.6h3.8M245.8 136.8V127.0M243.9 127.0h3.8M246.8 139.9V133.2M244.9 133.2h3.8M247.8 133.1V128.3M245.9 128.3h3.8M248.9 138.0V133.3M247.0 133.3h3.8M249.9 136.5V125.8M248.0 125.8h3.8M250.9 140.2V132.3M249.0 132.3h3.8M251.9 140.8V135.8M250.0 135.8h3.8M252.9 142.3V132.0M251.0 132.0h3.8M253.9 127.7V119.3M252.0 119.3h3.8M254.9 140.4V131.6M253.0 131.6h3.8M255.9 138.9V129.9M254.0 129.9h3.8M257.0 136.4V128.5M255.1 128.5h3.8M258.0 135.2V129.0M256.1 129.0h3.8M259.0 139.5V135.7M257.1 135.7h3.8M260.0 139.8V135.3M258.1 135.3h3.8M261.0 138.6V133.2M259.1 133.2h3.8M262.0 137.7V129.4M260.1 129.4h3.8M263.0 144.3V138.6M261.1 138.6h3.8" stroke="#963c08" stroke-width="1.3" fill="none"/><path d="M58.9 140.3h3.1v3.1h-3.1zM59.9 140.5h3.1v3.1h-3.1zM60.9 140.2h3.1v3.1h-3.1zM61.9 139.1h3.1v3.1h-3.1zM62.9 136.1h3.1v3.1h-3.1zM63.9 142.0h3.1v3.1h-3.1zM64.9 136.5h3.1v3.1h-3.1zM65.9 141.5h3.1v3.1h-3.1zM67.0 136.9h3.1v3.1h-3.1zM68.0 142.7h3.1v3.1h-3.1zM69.0 141.5h3.1v3.1h-3.1zM70.0 137.3h3.1v3.1h-3.1zM71.0 138.1h3.1v3.1h-3.1zM72.0 136.0h3.1v3.1h-3.1zM73.0 136.9h3.1v3.1h-3.1zM74.0 141.7h3.1v3.1h-3.1zM75.1 139.8h3.1v3.1h-3.1zM76.1 135.2h3.1v3.1h-3.1zM77.1 142.7h3.1v3.1h-3.1zM78.1 140.1h3.1v3.1h-3.1zM79.1 138.7h3.1v3.1h-3.1zM80.1 136.1h3.1v3.1h-3.1zM81.1 139.5h3.1v3.1h-3.1zM82.2 139.1h3.1v3.1h-3.1zM83.2 142.1h3.1v3.1h-3.1zM84.2 137.1h3.1v3.1h-3.1zM85.2 141.5h3.1v3.1h-3.1zM86.2 132.7h3.1v3.1h-3.1zM87.2 138.6h3.1v3.1h-3.1zM88.2 137.2h3.1v3.1h-3.1zM89.2 140.1h3.1v3.1h-3.1zM90.3 140.1h3.1v3.1h-3.1zM91.3 137.3h3.1v3.1h-3.1zM92.3 140.8h3.1v3.1h-3.1zM93.3 139.6h3.1v3.1h-3.1zM94.3 140.0h3.1v3.1h-3.1zM95.3 138.4h3.1v3.1h-3.1zM96.3 138.4h3.1v3.1h-3.1zM97.4 139.8h3.1v3.1h-3.1zM98.4 137.2h3.1v3.1h-3.1zM99.4 135.5h3.1v3.1h-3.1zM100.4 141.7h3.1v3.1h-3.1zM101.4 141.1h3.1v3.1h-3.1zM102.4 141.1h3.1v3.1h-3.1zM103.4 141.1h3.1v3.1h-3.1zM104.4 140.7h3.1v3.1h-3.1zM105.5 138.7h3.1v3.1h-3.1zM106.5 136.7h3.1v3.1h-3.1zM107.5 139.7h3.1v3.1h-3.1zM108.5 136.7h3.1v3.1h-3.1zM109.5 134.4h3.1v3.1h-3.1zM110.5 133.3h3.1v3.1h-3.1zM111.5 135.0h3.1v3.1h-3.1zM112.5 136.8h3.1v3.1h-3.1zM113.6 134.6h3.1v3.1h-3.1zM114.6 134.3h3.1v3.1h-3.1zM115.6 127.8h3.1v3.1h-3.1zM116.6 133.3h3.1v3.1h-3.1zM117.6 131.3h3.1v3.1h-3.1zM118.6 133.0h3.1v3.1h-3.1zM119.6 135.3h3.1v3.1h-3.1zM120.7 129.5h3.1v3.1h-3.1zM121.7 132.8h3.1v3.1h-3.1zM122.7 129.8h3.1v3.1h-3.1zM123.7 130.8h3.1v3.1h-3.1zM124.7 133.4h3.1v3.1h-3.1zM125.7 124.7h3.1v3.1h-3.1zM126.7 129.1h3.1v3.1h-3.1zM127.7 128.9h3.1v3.1h-3.1zM128.8 127.8h3.1v3.1h-3.1zM129.8 127.6h3.1v3.1h-3.1zM130.8 127.5h3.1v3.1h-3.1zM131.8 128.3h3.1v3.1h-3.1zM132.8 125.2h3.1v3.1h-3.1zM133.8 127.8h3.1v3.1h-3.1zM134.8 123.6h3.1v3.1h-3.1zM135.9 123.0h3.1v3.1h-3.1zM136.9 126.7h3.1v3.1h-3.1zM137.9 129.6h3.1v3.1h-3.1zM138.9 127.5h3.1v3.1h-3.1zM139.9 130.5h3.1v3.1h-3.1zM140.9 126.0h3.1v3.1h-3.1zM141.9 123.3h3.1v3.1h-3.1zM142.9 126.4h3.1v3.1h-3.1zM144.0 124.8h3.1v3.1h-3.1zM145.0 124.3h3.1v3.1h-3.1zM146.0 126.1h3.1v3.1h-3.1zM147.0 128.5h3.1v3.1h-3.1zM148.0 129.6h3.1v3.1h-3.1zM149.0 125.6h3.1v3.1h-3.1zM150.0 124.4h3.1v3.1h-3.1zM151.1 127.5h3.1v3.1h-3.1zM152.1 127.5h3.1v3.1h-3.1zM153.1 124.7h3.1v3.1h-3.1zM154.1 123.0h3.1v3.1h-3.1zM155.1 122.6h3.1v3.1h-3.1zM156.1 131.6h3.1v3.1h-3.1zM157.1 126.0h3.1v3.1h-3.1zM158.1 124.2h3.1v3.1h-3.1zM159.2 130.1h3.1v3.1h-3.1zM160.2 125.1h3.1v3.1h-3.1zM161.2 124.3h3.1v3.1h-3.1zM162.2 126.3h3.1v3.1h-3.1zM163.2 129.8h3.1v3.1h-3.1zM164.2 130.9h3.1v3.1h-3.1zM165.2 123.7h3.1v3.1h-3.1zM166.2 131.7h3.1v3.1h-3.1zM167.3 129.5h3.1v3.1h-3.1zM168.3 127.2h3.1v3.1h-3.1zM169.3 130.6h3.1v3.1h-3.1zM170.3 129.9h3.1v3.1h-3.1zM171.3 127.6h3.1v3.1h-3.1zM172.3 130.7h3.1v3.1h-3.1zM173.3 128.8h3.1v3.1h-3.1zM174.4 131.2h3.1v3.1h-3.1zM175.4 128.9h3.1v3.1h-3.1zM176.4 126.0h3.1v3.1h-3.1zM177.4 124.1h3.1v3.1h-3.1zM178.4 131.2h3.1v3.1h-3.1zM179.4 127.1h3.1v3.1h-3.1zM180.4 123.7h3.1v3.1h-3.1zM181.4 125.1h3.1v3.1h-3.1zM182.5 128.7h3.1v3.1h-3.1zM183.5 134.1h3.1v3.1h-3.1zM184.5 123.1h3.1v3.1h-3.1zM185.5 124.6h3.1v3.1h-3.1zM186.5 122.7h3.1v3.1h-3.1zM187.5 130.2h3.1v3.1h-3.1zM188.5 129.5h3.1v3.1h-3.1zM189.6 132.1h3.1v3.1h-3.1zM190.6 123.5h3.1v3.1h-3.1zM191.6 129.1h3.1v3.1h-3.1zM192.6 129.5h3.1v3.1h-3.1zM193.6 130.6h3.1v3.1h-3.1zM194.6 136.9h3.1v3.1h-3.1zM195.6 133.0h3.1v3.1h-3.1zM196.6 129.9h3.1v3.1h-3.1zM197.7 133.8h3.1v3.1h-3.1zM198.7 124.5h3.1v3.1h-3.1zM199.7 129.9h3.1v3.1h-3.1zM200.7 125.2h3.1v3.1h-3.1zM201.7 131.0h3.1v3.1h-3.1zM202.7 137.8h3.1v3.1h-3.1zM203.7 120.3h3.1v3.1h-3.1zM204.8 126.2h3.1v3.1h-3.1zM205.8 135.5h3.1v3.1h-3.1zM206.8 136.6h3.1v3.1h-3.1zM207.8 130.5h3.1v3.1h-3.1zM208.8 130.1h3.1v3.1h-3.1zM209.8 135.0h3.1v3.1h-3.1zM210.8 131.7h3.1v3.1h-3.1zM211.8 137.4h3.1v3.1h-3.1zM212.9 134.1h3.1v3.1h-3.1zM213.9 137.7h3.1v3.1h-3.1zM214.9 131.6h3.1v3.1h-3.1zM215.9 124.3h3.1v3.1h-3.1zM216.9 135.3h3.1v3.1h-3.1zM217.9 133.5h3.1v3.1h-3.1zM218.9 125.8h3.1v3.1h-3.1zM219.9 137.5h3.1v3.1h-3.1zM221.0 131.5h3.1v3.1h-3.1zM222.0 138.6h3.1v3.1h-3.1zM223.0 130.9h3.1v3.1h-3.1zM224.0 135.8h3.1v3.1h-3.1zM225.0 130.9h3.1v3.1h-3.1zM226.0 134.6h3.1v3.1h-3.1zM227.0 135.8h3.1v3.1h-3.1zM228.1 134.7h3.1v3.1h-3.1zM229.1 127.2h3.1v3.1h-3.1zM230.1 123.1h3.1v3.1h-3.1zM231.1 129.9h3.1v3.1h-3.1zM232.1 129.9h3.1v3.1h-3.1zM233.1 138.8h3.1v3.1h-3.1zM234.1 137.0h3.1v3.1h-3.1zM235.1 122.7h3.1v3.1h-3.1zM236.2 126.9h3.1v3.1h-3.1zM237.2 128.4h3.1v3.1h-3.1zM238.2 128.2h3.1v3.1h-3.1zM239.2 139.5h3.1v3.1h-3.1zM240.2 143.7h3.1v3.1h-3.1zM241.2 134.4h3.1v3.1h-3.1zM242.2 135.5h3.1v3.1h-3.1zM243.3 127.1h3.1v3.1h-3.1zM244.3 135.3h3.1v3.1h-3.1zM245.3 138.3h3.1v3.1h-3.1zM246.3 131.6h3.1v3.1h-3.1zM247.3 136.5h3.1v3.1h-3.1zM248.3 135.0h3.1v3.1h-3.1zM249.3 138.6h3.1v3.1h-3.1zM250.3 139.3h3.1v3.1h-3.1zM251.4 140.8h3.1v3.1h-3.1zM252.4 126.2h3.1v3.1h-3.1zM253.4 138.9h3.1v3.1h-3.1zM254.4 137.4h3.1v3.1h-3.1zM255.4 134.9h3.1v3.1h-3.1zM256.4 133.7h3.1v3.1h-3.1zM257.4 138.0h3.1v3.1h-3.1zM258.5 138.3h3.1v3.1h-3.1zM259.5 137.1h3.1v3.1h-3.1zM260.5 136.1h3.1v3.1h-3.1zM261.5 142.7h3.1v3.1h-3.1z" fill="#963c08"/>
<path d="M60.4 13.2V192.9" stroke="#000" stroke-width="1.6" fill="none"/><path d="M59.6 192.1H344.9" stroke="#000" stroke-width="1.6" fill="none"/><path d="M57 191.9H61M57 166.5H61M57 141.0H61M57 115.6H61M57 90.1H61M57 64.7H61M57 39.3H61M57 13.8H61M60.4 192V194.4M100.9 192V194.4M141.5 192V194.4M182.0 192V194.4M222.5 192V194.4M263.0 192V194.4M303.6 192V194.4M344.1 192V194.4" stroke="#000" stroke-width="1.5" fill="none"/><path d="M61 141.1H332" stroke="#000" stroke-width="1.1" fill="none"/>
<path d="M100.4 189.3V170" stroke="#000" stroke-width="1.9"/><path d="M100.3 162.3L105.1 171.4H95.5z" fill="#000"/>
<text x="50.4" y="195.2" text-anchor="end" class="s9">80</text><text x="50.4" y="169.8" text-anchor="end" class="s9">90</text><text x="50.4" y="144.3" text-anchor="end" class="s9">100</text><text x="50.4" y="118.9" text-anchor="end" class="s9">110</text><text x="50.4" y="93.4" text-anchor="end" class="s9">120</text><text x="50.4" y="68.0" text-anchor="end" class="s9">130</text><text x="50.4" y="42.6" text-anchor="end" class="s9">140</text><text x="50.4" y="17.1" text-anchor="end" class="s9">150</text><text x="60.4" y="207.1" text-anchor="middle" class="s9">0</text><text x="100.9" y="207.1" text-anchor="middle" class="s9">20</text><text x="141.5" y="207.1" text-anchor="middle" class="s9">40</text><text x="182.0" y="207.1" text-anchor="middle" class="s9">60</text><text x="222.5" y="207.1" text-anchor="middle" class="s9">80</text><text x="263.0" y="207.1" text-anchor="middle" class="s9">100</text><text x="303.6" y="207.1" text-anchor="middle" class="s9">120</text><text x="344.1" y="207.1" text-anchor="middle" class="s9">140</text><text x="203.2" y="219.7" text-anchor="middle" class="s9" style="font-size:9.5px">Time (min)</text><text transform="translate(27.3 106.9) rotate(-90)" text-anchor="middle" class="s9" style="font-size:9.5px">EPSP Amplitude (% of Baseline)</text><text x="3.1" y="13.1" class="r" style="font-size:12.8px">A</text><text x="371.1" y="13.1" class="r" style="font-size:12.8px">B</text>
<rect x="77.8" y="20.0" width="2.6" height="2.6" fill="#0000ff"/><text x="87.6" y="25.8" class="b" style="font-size:11.5px">20 mg/kg (n=5)</text><rect x="77.8" y="35.2" width="2.6" height="2.6" fill="#ff0000"/><text x="87.6" y="41.0" class="b" style="font-size:11.5px">10 mg/kg (n=4)</text><rect x="77.8" y="50.4" width="2.6" height="2.6" fill="#963c08"/><text x="87.6" y="56.2" class="b" style="font-size:11.5px">5 mg/kg (n=4)</text>
<path d="M428.75 11.3V190.4M421.2 189.6H546" stroke="#000" stroke-width="1.9" fill="none"/><path d="M421.2 189.6H428.5M421.2 154.1H428.5M421.2 118.6H428.5M421.2 83.1H428.5M421.2 47.6H428.5M421.2 12.1H428.5M452.1 189.6V196M487.3 189.6V196M523.3 189.6V196" stroke="#000" stroke-width="1.6" fill="none"/><path d="M440.4 189V130.7q0 -1.2 1.2 -1.2H462.6q1.2 0 1.2 1.2V189z" fill="#963c08"/><path d="M452.1 129.5V120.5M446.0 120.5h12.2" stroke="#963c08" stroke-width="1.2" fill="none"/><path d="M475.6 189V66.6q0 -1.2 1.2 -1.2H497.8q1.2 0 1.2 1.2V189z" fill="#ff0000"/><path d="M487.3 65.4V58.8M481.2 58.8h12.2" stroke="#ff0000" stroke-width="1.2" fill="none"/><path d="M511.3 189V41.6q0 -1.2 1.2 -1.2H533.8q1.2 0 1.2 1.2V189z" fill="#0000ff"/><path d="M523.1 40.4V26.5M517.0 26.5h12.2" stroke="#0000ff" stroke-width="1.2" fill="none"/><text x="420" y="194.2" text-anchor="end" class="b" style="font-size:13.3px">0</text><text x="420" y="158.7" text-anchor="end" class="b" style="font-size:13.3px">5</text><text x="420" y="123.2" text-anchor="end" class="b" style="font-size:13.3px">10</text><text x="420" y="87.7" text-anchor="end" class="b" style="font-size:13.3px">15</text><text x="420" y="52.2" text-anchor="end" class="b" style="font-size:13.3px">20</text><text x="420" y="16.7" text-anchor="end" class="b" style="font-size:13.3px">25</text><text x="452.1" y="210.3" text-anchor="middle" class="b" style="font-size:13px">5</text><text x="487.3" y="210.3" text-anchor="middle" class="b" style="font-size:13px">10</text><text x="523.3" y="210.3" text-anchor="middle" class="b" style="font-size:13px">20</text><text x="488.1" y="232.5" text-anchor="middle" class="b" style="font-size:14.3px">CX717 (mg/kg)</text><text transform="translate(395.9 100.9) rotate(-90)" text-anchor="middle" class="b" style="font-size:14.3px">% Potentiation</text><text x="488.1" y="59.8" text-anchor="middle" class="b" style="font-size:20px">*</text><text x="523.5" y="26.3" text-anchor="middle" class="b" style="font-size:20px">**</text>
</svg>
</body></html>
